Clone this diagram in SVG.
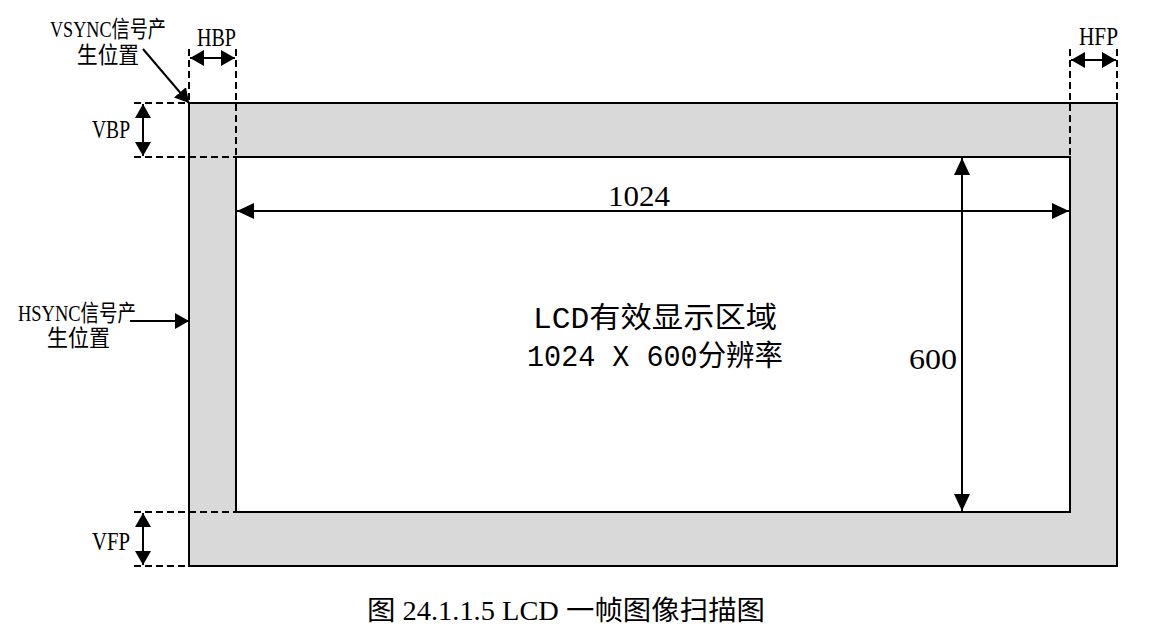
<svg xmlns="http://www.w3.org/2000/svg" width="1152" height="635" viewBox="0 0 1152 635">
<style>
.t{font-family:"Liberation Serif","Noto Sans CJK SC",serif;fill:#000}
.m{font-family:"Liberation Mono","Noto Sans CJK SC",monospace;fill:#000}
.ln{stroke:#000;stroke-width:2;fill:none}
.d{stroke:#000;stroke-width:2;fill:none;stroke-dasharray:7 4}
</style>
<defs>
<marker id="a" viewBox="0 0 14 16" refX="14" refY="8" markerWidth="14" markerHeight="16" markerUnits="userSpaceOnUse" orient="auto-start-reverse"><path d="M0,0 L14,8 L0,16 Z" fill="#000"/></marker>
<marker id="b" viewBox="0 0 17 16" refX="17" refY="8" markerWidth="17" markerHeight="16" markerUnits="userSpaceOnUse" orient="auto-start-reverse"><path d="M0,0 L17,8 L0,16 Z" fill="#000"/></marker>
</defs>
<rect width="1152" height="635" fill="#fff"/>
<g id="frame">
<path d="M189,103 H1117 V566 H189 Z M236,157 V512 H1070 V157 Z" fill="#d9d9d9" fill-rule="evenodd" stroke="#000" stroke-width="2"/>
</g>
<g id="guides">
<line class="d" x1="189" y1="49" x2="189" y2="103"/>
<line class="d" x1="236" y1="49" x2="236" y2="157"/>
<line class="d" x1="1070" y1="49" x2="1070" y2="157"/>
<line class="d" x1="1117" y1="49" x2="1117" y2="103"/>
<line class="d" x1="134" y1="103" x2="189" y2="103"/>
<line class="d" x1="134" y1="157" x2="236" y2="157"/>
<line class="d" x1="134" y1="512" x2="236" y2="512"/>
<line class="d" x1="134" y1="566" x2="189" y2="566"/>
</g>
<g id="connectors">
<line class="ln" x1="190" y1="58" x2="235" y2="58" marker-start="url(#a)" marker-end="url(#a)"/>
<line class="ln" x1="1071" y1="60" x2="1116" y2="60" marker-start="url(#a)" marker-end="url(#a)"/>
<line class="ln" x1="143" y1="104" x2="143" y2="156" marker-start="url(#a)" marker-end="url(#a)"/>
<line class="ln" x1="143" y1="513" x2="143" y2="565" marker-start="url(#a)" marker-end="url(#a)"/>
<line class="ln" x1="143" y1="49" x2="189" y2="103" marker-end="url(#a)"/>
<line class="ln" x1="130" y1="321" x2="189" y2="321" marker-end="url(#a)"/>
<line class="ln" x1="237" y1="211" x2="1069" y2="211" marker-start="url(#b)" marker-end="url(#b)"/>
<line class="ln" x1="962" y1="158" x2="962" y2="511" marker-start="url(#b)" marker-end="url(#b)"/>
</g>
<g id="labels">
<text class="t" x="50" y="37" font-size="23" textLength="116" lengthAdjust="spacingAndGlyphs">VSYNC信号产</text>
<text class="t" x="77" y="63" font-size="23" textLength="62" lengthAdjust="spacingAndGlyphs">生位置</text>
<text class="t" x="197" y="46" font-size="25" textLength="39" lengthAdjust="spacingAndGlyphs">HBP</text>
<text class="t" x="1079" y="45" font-size="25" textLength="39" lengthAdjust="spacingAndGlyphs">HFP</text>
<text class="t" x="92" y="138" font-size="25" textLength="38" lengthAdjust="spacingAndGlyphs">VBP</text>
<text class="t" x="92" y="550" font-size="25" textLength="38" lengthAdjust="spacingAndGlyphs">VFP</text>
<text class="t" x="18" y="321" font-size="23" textLength="118" lengthAdjust="spacingAndGlyphs">HSYNC信号产</text>
<text class="t" x="47" y="346" font-size="23" textLength="63" lengthAdjust="spacingAndGlyphs">生位置</text>
<text class="t" x="608" y="206" font-size="30" textLength="62" lengthAdjust="spacingAndGlyphs">1024</text>
<text class="t" x="909" y="369" font-size="30" textLength="48" lengthAdjust="spacingAndGlyphs">600</text>
<text class="m" x="533" y="328" font-size="29" textLength="244" lengthAdjust="spacingAndGlyphs">LCD有效显示区域</text>
<text class="m" x="527" y="366" font-size="29" textLength="256" lengthAdjust="spacingAndGlyphs">1024 X 600分辨率</text>
<text class="t" x="367" y="620" font-size="27" textLength="398" lengthAdjust="spacingAndGlyphs">图 24.1.1.5 LCD 一帧图像扫描图</text>
</g>
</svg>
